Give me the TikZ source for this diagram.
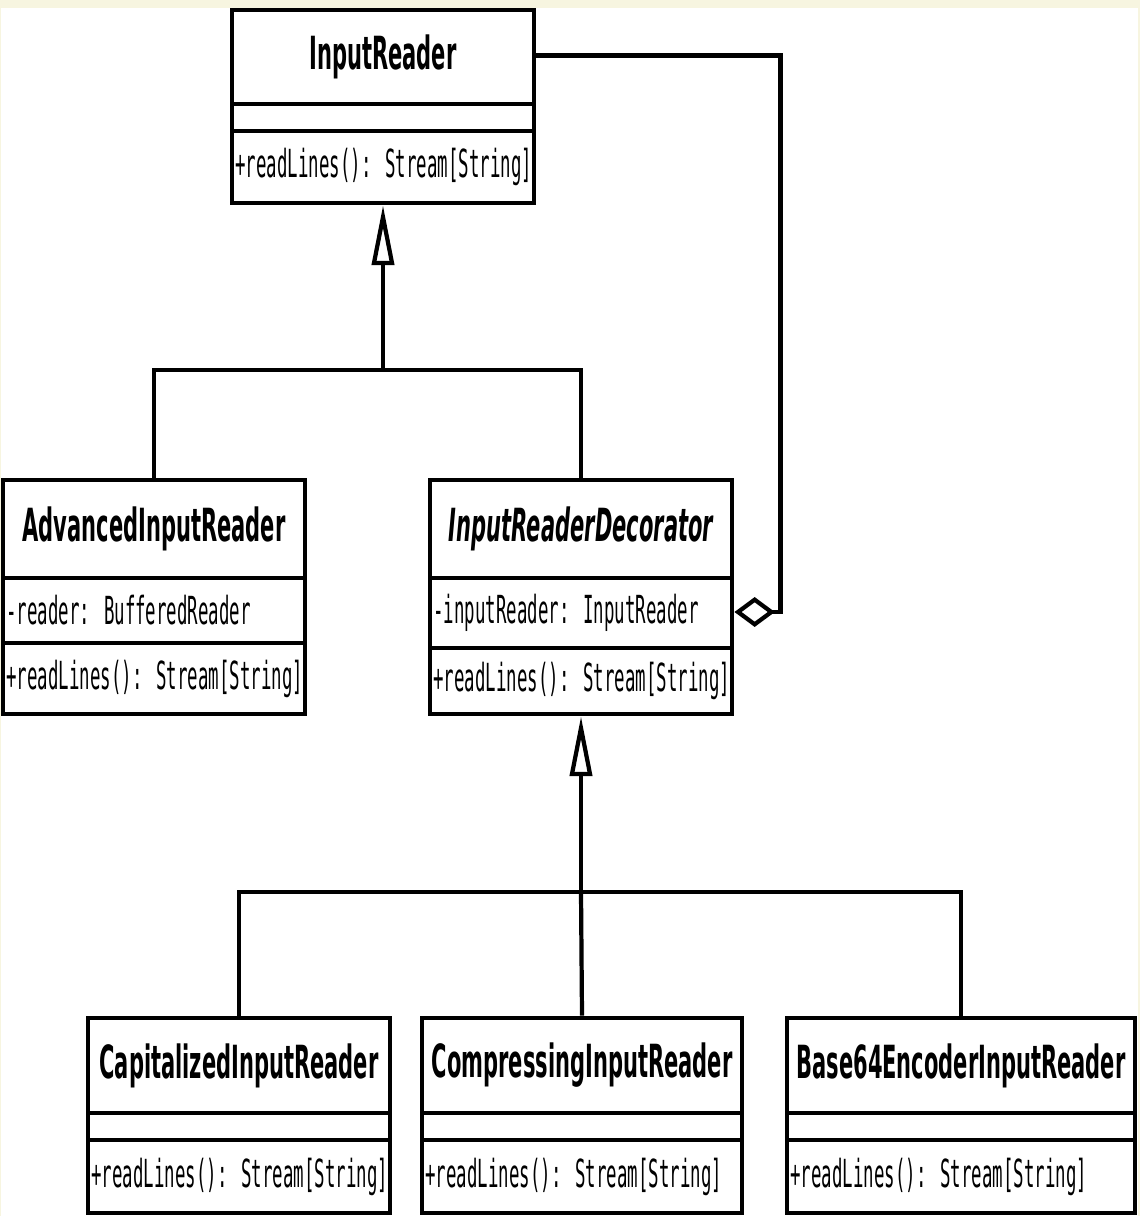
\documentclass[tikz,border=0pt]{standalone}
\usepackage{fontspec}
\usetikzlibrary{arrows.meta}
\usetikzlibrary{fit}
\usetikzlibrary{calc}
\newfontfamily\umlsans{DejaVu Sans}[FakeStretch=0.46]
\newfontfamily\umlmono{DejaVu Sans Mono}[FakeStretch=0.45]
\definecolor{ccream}{rgb}{0.97, 0.96, 0.88}

\tikzset{
  uml/.style={line width=2.4pt, line join=miter},
  umlbox/.style={draw, line width=2.8pt, inner sep=0pt},
  umltitle/.style={font=\umlsans\bfseries\fontsize{26}{28}\selectfont, inner sep=0pt},
  umltext/.style={font=\umlmono\fontsize{22}{24}\selectfont, inner sep=0pt, anchor=west},
  inherit/.style={-{Triangle[open, length=34pt, width=12.5pt, line width=2.4pt]}},
  aggreg/.style={{Diamond[open, length=23pt, width=17pt, line width=2.4pt]}-}
}

% #1 name, #2-#5 box corners, #6 #7 compartment lines, #8 title, #9 attribute
\newcommand\umlclass[9]{
  \path (#2,#3) coordinate (#1nw) (#4,#5) coordinate (#1se);
  \node [umlbox, fit=(#1nw)(#1se)] (#1) {};
  \node [umltitle] (#1name) at ($(#2,#3)!0.5!(#4,#6)$) {#8};
  \draw [line width=2.8pt] (#2,#6) -- (#4,#6);
  \draw [line width=2.8pt] (#2,#7) -- (#4,#7);
  \node [umltext] (#1attr) at ({#2+3},{(#6+#7)/2}) {#9};
  \node [umltext] (#1op) at ({#2+3},{(#7+#5)/2}) {+readLines(): Stream[String]};
}

\begin{document}
\begin{tikzpicture}[x=0.02cm, y=-0.02cm]
  \fill [ccream] (0,0) rectangle (1140,1216);
  \fill [white] (1,8) rectangle (1138,1216);
  \useasboundingbox (0,0) rectangle (1140,1216);

  \umlclass{ir}{232}{10}{534}{203}{104}{131}{InputReader}{}
  \umlclass{air}{3}{480}{305}{714}{578}{643}{AdvancedInputReader}{-reader: BufferedReader}
  \umlclass{ird}{430}{480}{732}{714}{578}{648}{\itshape InputReaderDecorator}{-inputReader: InputReader}
  \umlclass{cir}{88}{1018}{390}{1213}{1113}{1140}{CapitalizedInputReader}{}
  \umlclass{pir}{422}{1018}{742}{1213}{1113}{1140}{CompressingInputReader}{}
  \umlclass{bir}{787}{1018}{1135}{1213}{1113}{1140}{Base64EncoderInputReader}{}

  % generalization
  \coordinate (j1) at (383,370);
  \draw [uml, inherit] (j1) -- (ir.south);
  \draw [uml] (air.north) |- (j1) -| (ird.north);

  \coordinate (j2) at (581,892);
  \draw [uml, inherit] (j2) -- (ird.south);
  \draw [uml] (cir.north) |- (j2) -| (bir.north);
  \draw [uml] (pir.north) -- (j2);

  % aggregation
  \coordinate (agg) at ($(ir.north east)+(0,48)$);
  \draw [uml, aggreg] ($(ird.east)+(0,15)$) -- ++(46,0) |- (agg);
\end{tikzpicture}
\end{document}
